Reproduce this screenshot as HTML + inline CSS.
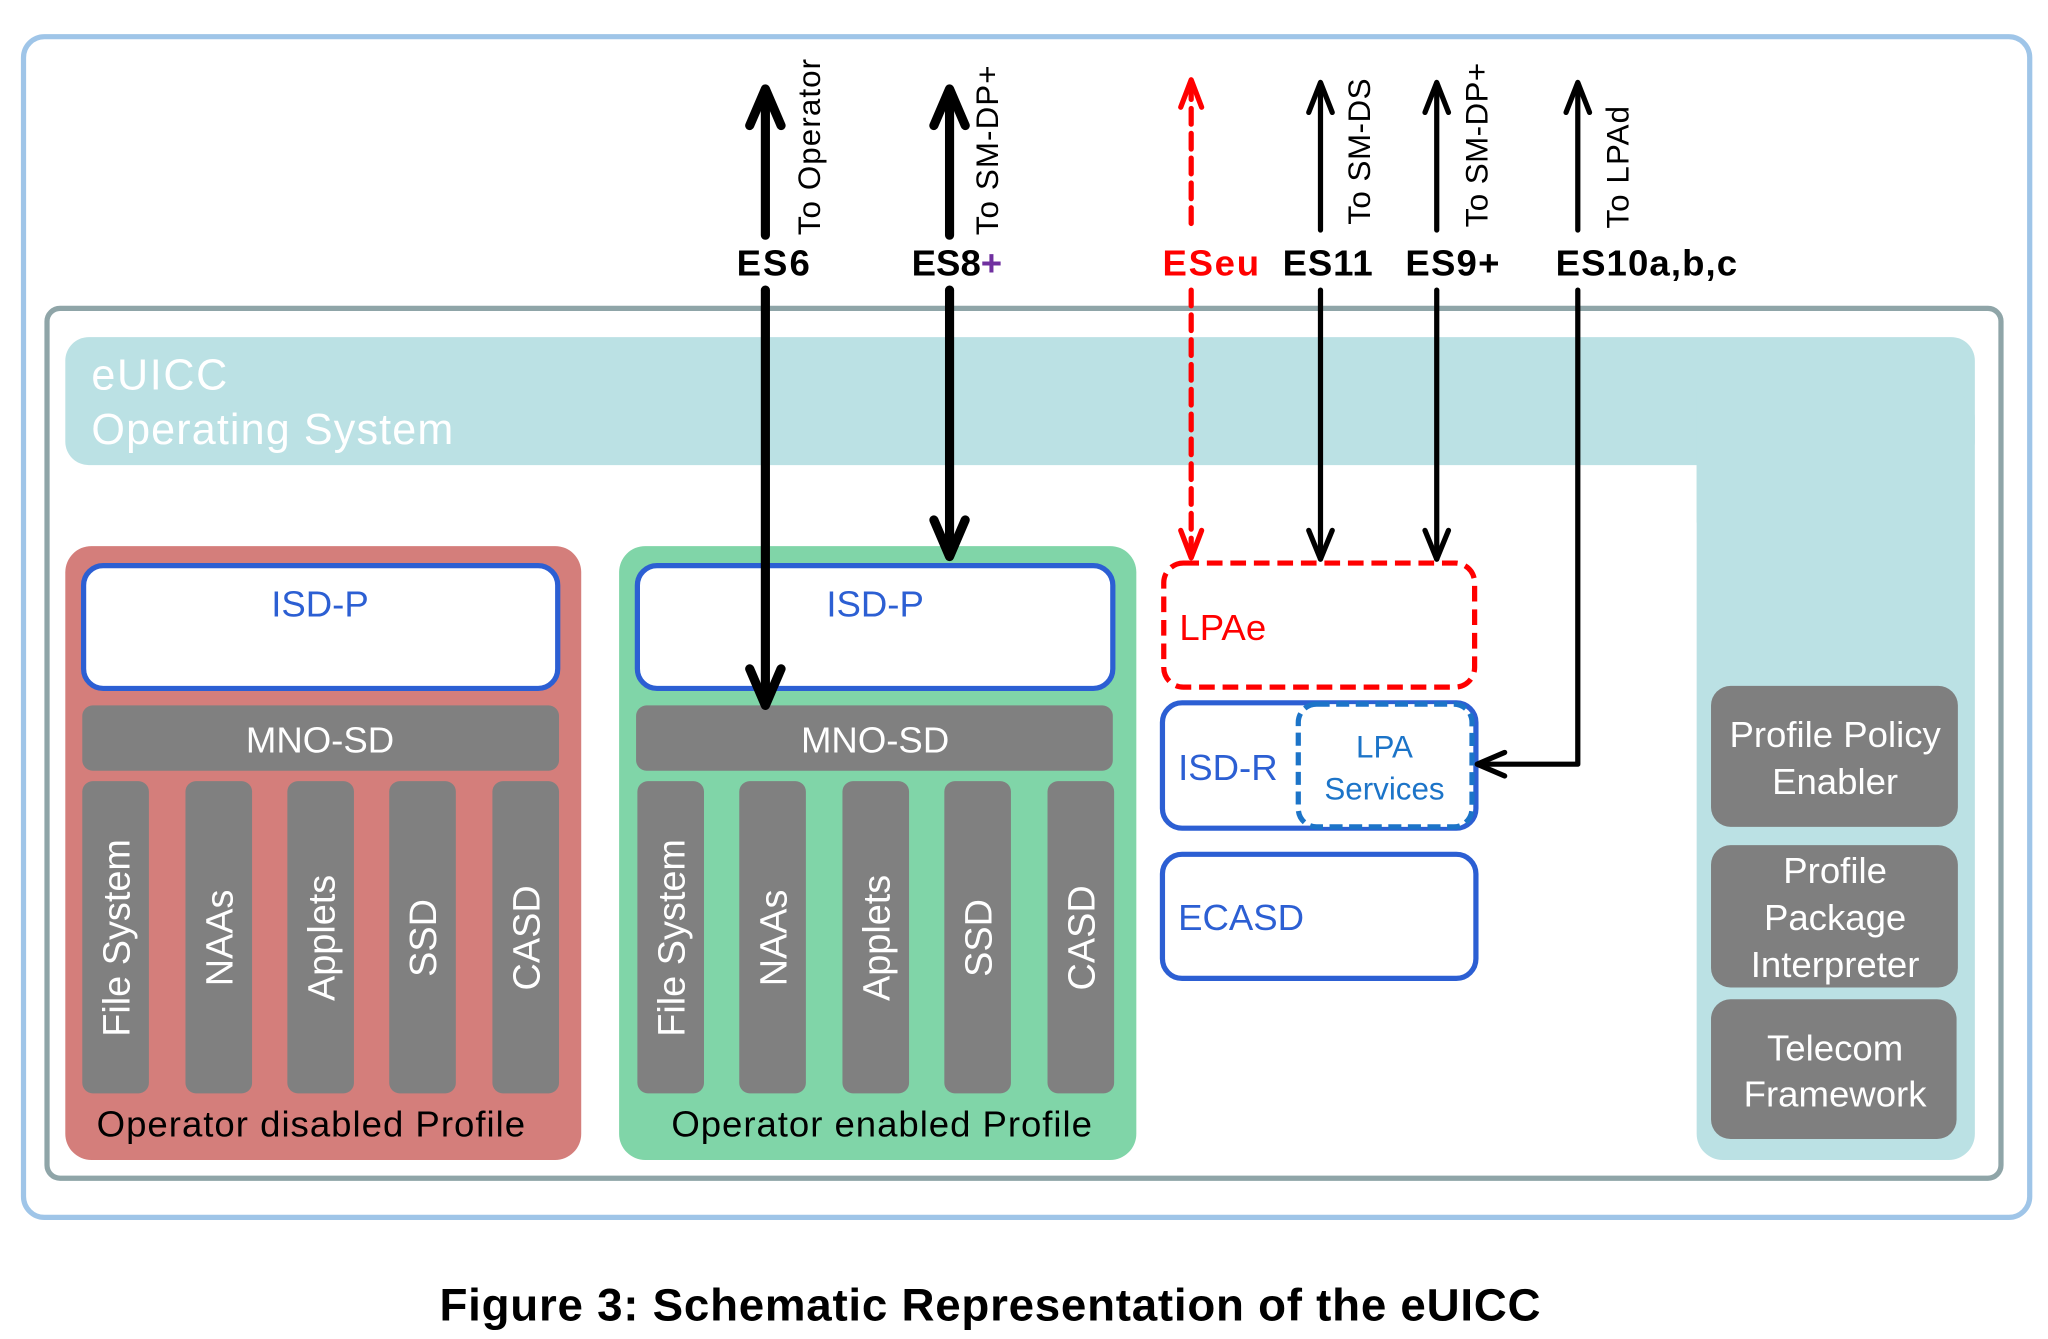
<!DOCTYPE html>
<html><head><meta charset="utf-8"><style>
html,body{margin:0;padding:0;background:#fff;}
svg{display:block;}
text{font-family:"Liberation Sans",Arial,sans-serif;}
</style></head><body>
<svg width="2048" height="1339" viewBox="0 0 1568 1025" xmlns="http://www.w3.org/2000/svg">
<rect x="0" y="0" width="1568" height="1025" fill="#fff"/>
<rect x="18" y="28" width="1536" height="904" rx="16" fill="#fff" stroke="#9fc5e8" stroke-width="4"/>
<rect x="36" y="236" width="1496" height="666" rx="10" fill="#fff" stroke="#8fa5a8" stroke-width="4"/>
<rect x="50" y="258" width="1462" height="98" rx="18" fill="#bbe1e4"/>
<rect x="1299" y="300" width="213" height="588" rx="20" fill="#bbe1e4"/>
<rect x="1299" y="300" width="100" height="100" fill="#bbe1e4"/>
<text x="70" y="298" font-size="33" fill="#fff" textLength="104">eUICC</text>
<text x="70" y="340" font-size="33" fill="#fff" textLength="277">Operating System</text>

<rect x="50" y="418" width="395" height="470" rx="20" fill="#d47e7b"/>
<rect x="64" y="433" width="363" height="94" rx="15" fill="#fff" stroke="#2c5fd3" stroke-width="4"/>
<text x="245" y="472" font-size="28" fill="#2c5fd3" text-anchor="middle">ISD-P</text>
<rect x="63" y="540" width="365" height="50" rx="8" fill="#808080"/>
<text x="245" y="576" font-size="28" fill="#fff" text-anchor="middle">MNO-SD</text>
<g fill="#808080">
<rect x="63" y="598" width="51" height="239" rx="8"/><rect x="142" y="598" width="51" height="239" rx="8"/><rect x="220" y="598" width="51" height="239" rx="8"/><rect x="298" y="598" width="51" height="239" rx="8"/><rect x="377" y="598" width="51" height="239" rx="8"/>
</g>
<g fill="#fff" font-size="29" text-anchor="middle">
<text transform="translate(99,718) rotate(-90)">File System</text>
<text transform="translate(178,718) rotate(-90)">NAAs</text>
<text transform="translate(256,718) rotate(-90)">Applets</text>
<text transform="translate(334,718) rotate(-90)">SSD</text>
<text transform="translate(413,718) rotate(-90)">CASD</text>
</g>
<text x="238" y="870" font-size="28" fill="#000" text-anchor="middle" textLength="328">Operator disabled Profile</text>

<rect x="474" y="418" width="396" height="470" rx="20" fill="#80d5a8"/>
<rect x="488" y="433" width="364" height="94" rx="15" fill="#fff" stroke="#2c5fd3" stroke-width="4"/>
<text x="670" y="472" font-size="28" fill="#2c5fd3" text-anchor="middle">ISD-P</text>
<rect x="487" y="540" width="365" height="50" rx="8" fill="#808080"/>
<text x="670" y="576" font-size="28" fill="#fff" text-anchor="middle">MNO-SD</text>
<g fill="#808080">
<rect x="488" y="598" width="51" height="239" rx="8"/><rect x="566" y="598" width="51" height="239" rx="8"/><rect x="645" y="598" width="51" height="239" rx="8"/><rect x="723" y="598" width="51" height="239" rx="8"/><rect x="802" y="598" width="51" height="239" rx="8"/>
</g>
<g fill="#fff" font-size="29" text-anchor="middle">
<text transform="translate(524,718) rotate(-90)">File System</text>
<text transform="translate(602,718) rotate(-90)">NAAs</text>
<text transform="translate(681,718) rotate(-90)">Applets</text>
<text transform="translate(759,718) rotate(-90)">SSD</text>
<text transform="translate(838,718) rotate(-90)">CASD</text>
</g>
<text x="675" y="870" font-size="28" fill="#000" text-anchor="middle" textLength="322">Operator enabled Profile</text>

<rect x="891" y="431" width="238" height="95" rx="15" fill="#fff" stroke="#f00" stroke-width="4" stroke-dasharray="12,6"/>
<text x="903" y="490" font-size="28" fill="#f00">LPAe</text>
<rect x="890" y="538" width="240" height="96" rx="15" fill="#fff" stroke="#2c5fd3" stroke-width="4"/>
<rect x="994" y="539" width="133" height="94" rx="14" fill="#fff" stroke="#1c74c8" stroke-width="4" stroke-dasharray="10,5"/>
<text x="902" y="597" font-size="28" fill="#2c5fd3">ISD-R</text>
<text x="1060" y="580" font-size="24" fill="#1c74c8" text-anchor="middle">LPA</text>
<text x="1060" y="612" font-size="24" fill="#1c74c8" text-anchor="middle">Services</text>
<rect x="890" y="654" width="240" height="95" rx="15" fill="#fff" stroke="#2c5fd3" stroke-width="4"/>
<text x="902" y="712" font-size="28" fill="#2c5fd3">ECASD</text>

<g fill="#7f7f7f">
<rect x="1310" y="525" width="189" height="108" rx="15"/>
<rect x="1310" y="647" width="189" height="109" rx="15"/>
<rect x="1310" y="765" width="188" height="107" rx="15"/>
</g>
<g fill="#fff" font-size="28" text-anchor="middle">
<text x="1405" y="572">Profile Policy</text><text x="1405" y="608">Enabler</text>
<text x="1405" y="676">Profile</text><text x="1405" y="712">Package</text><text x="1405" y="748">Interpreter</text>
<text x="1405" y="812">Telecom</text><text x="1405" y="847">Framework</text>
</g>

<g stroke="#000" fill="none" stroke-linecap="round" stroke-linejoin="round">
<g stroke-width="7">
<line x1="586" y1="70" x2="586" y2="180"/><polyline points="574,96 586,68 598,96"/>
<line x1="586" y1="222" x2="586" y2="538"/><polyline points="574,512 586,540 598,512"/>
<line x1="727" y1="70" x2="727" y2="180"/><polyline points="715,96 727,68 739,96"/>
<line x1="727" y1="222" x2="727" y2="424"/><polyline points="715,398 727,426 739,398"/>
</g>
<g stroke-width="4">
<line x1="1011" y1="64" x2="1011" y2="176"/><polyline points="1002,86 1011,63 1020,86"/>
<line x1="1011" y1="222" x2="1011" y2="428"/><polyline points="1002,406 1011,428 1020,406"/>
<line x1="1100" y1="64" x2="1100" y2="176"/><polyline points="1091,86 1100,63 1109,86"/>
<line x1="1100" y1="222" x2="1100" y2="428"/><polyline points="1091,406 1100,428 1109,406"/>
<line x1="1208" y1="64" x2="1208" y2="176"/><polyline points="1199,86 1208,63 1217,86"/>
<polyline points="1208,222 1208,585 1132,585"/><polyline points="1152,576 1131,585 1152,594"/>
</g>
<g stroke="#f00" stroke-width="4">
<line x1="912" y1="64" x2="912" y2="178" stroke-dasharray="12,7"/><polyline points="904,82 912,61 920,82"/>
<line x1="912" y1="222" x2="912" y2="426" stroke-dasharray="12,7"/><polyline points="904,406 912,427 920,406"/>
</g>
</g>

<g font-size="28" font-weight="bold" fill="#000">
<text x="564" y="211" textLength="56">ES6</text>
<text x="698" y="211">ES8<tspan fill="#7030a0">+</tspan></text>
<text x="890" y="211" fill="#f00" textLength="74">ESeu</text>
<text x="982" y="211" textLength="69">ES11</text>
<text x="1076" y="211" textLength="72">ES9+</text>
<text x="1191" y="211" textLength="139">ES10a,b,c</text>
</g>
<g font-size="24" fill="#000">
<text transform="translate(628,180) rotate(-90)" textLength="135">To Operator</text>
<text transform="translate(764,180) rotate(-90)" textLength="130">To SM-DP+</text>
<text transform="translate(1049,172) rotate(-90)" textLength="112">To SM-DS</text>
<text transform="translate(1139,174) rotate(-90)" textLength="126">To SM-DP+</text>
<text transform="translate(1247,175) rotate(-90)" textLength="94">To LPAd</text>
</g>

<text x="758" y="1011" font-size="35" font-weight="bold" fill="#000" text-anchor="middle" textLength="843">Figure 3: Schematic Representation of the eUICC</text>
</svg>
</body></html>
